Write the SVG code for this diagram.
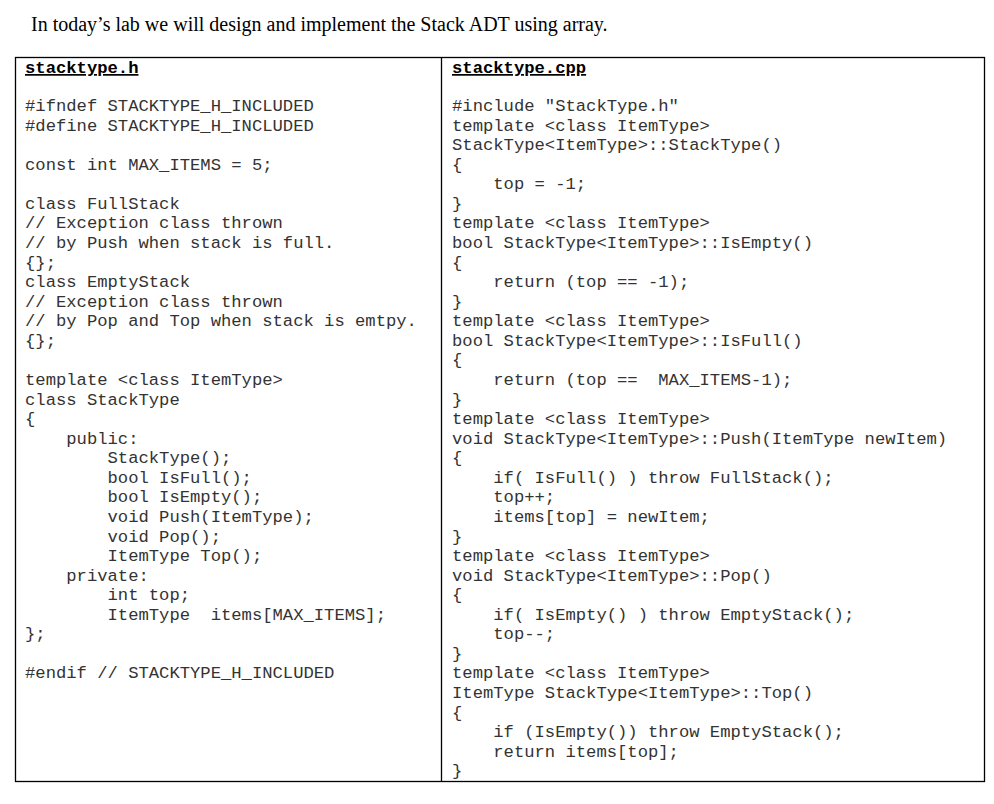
<svg xmlns="http://www.w3.org/2000/svg" width="994" height="804" viewBox="0 0 994 804">
<style>
.c{font-family:"Liberation Mono",monospace;font-size:17.2px;fill:#333;white-space:pre}
.h{font-family:"Liberation Mono",monospace;font-size:17.2px;font-weight:bold;text-decoration:underline;fill:#000}
.t{font-family:"Liberation Serif",serif;font-size:20px;fill:#000}
</style>
<rect width="994" height="804" fill="#fff"/>
<text class="t" x="31" y="31">In today’s lab we will design and implement the Stack ADT using array.</text>
<g id="table" fill="none" stroke="#000" stroke-width="1.3">
<rect x="15.5" y="57.5" width="969" height="724"/>
<line x1="441.5" y1="57.5" x2="441.5" y2="781.5"/>
</g>
<g id="left" xml:space="preserve">
<text class="h" x="25" y="73">stacktype.h</text>
<text class="c" x="25" y="111">#ifndef STACKTYPE_H_INCLUDED</text>
<text class="c" x="25" y="130.6">#define STACKTYPE_H_INCLUDED</text>
<text class="c" x="25" y="169.7">const int MAX_ITEMS = 5;</text>
<text class="c" x="25" y="208.8">class FullStack</text>
<text class="c" x="25" y="228.4">// Exception class thrown</text>
<text class="c" x="25" y="248">// by Push when stack is full.</text>
<text class="c" x="25" y="267.5">{};</text>
<text class="c" x="25" y="287.1">class EmptyStack</text>
<text class="c" x="25" y="306.7">// Exception class thrown</text>
<text class="c" x="25" y="326.2">// by Pop and Top when stack is emtpy.</text>
<text class="c" x="25" y="345.8">{};</text>
<text class="c" x="25" y="384.9">template &lt;class ItemType&gt;</text>
<text class="c" x="25" y="404.5">class StackType</text>
<text class="c" x="25" y="424">{</text>
<text class="c" x="25" y="443.6">    public:</text>
<text class="c" x="25" y="463.2">        StackType();</text>
<text class="c" x="25" y="482.8">        bool IsFull();</text>
<text class="c" x="25" y="502.3">        bool IsEmpty();</text>
<text class="c" x="25" y="521.9">        void Push(ItemType);</text>
<text class="c" x="25" y="541.5">        void Pop();</text>
<text class="c" x="25" y="561">        ItemType Top();</text>
<text class="c" x="25" y="580.6">    private:</text>
<text class="c" x="25" y="600.2">        int top;</text>
<text class="c" x="25" y="619.7">        ItemType  items[MAX_ITEMS];</text>
<text class="c" x="25" y="639.3">};</text>
<text class="c" x="25" y="678.4">#endif // STACKTYPE_H_INCLUDED</text>
</g>
<g id="right" xml:space="preserve">
<text class="h" x="452" y="73">stacktype.cpp</text>
<text class="c" x="452" y="111">#include "StackType.h"</text>
<text class="c" x="452" y="130.6">template &lt;class ItemType&gt;</text>
<text class="c" x="452" y="150.1">StackType&lt;ItemType&gt;::StackType()</text>
<text class="c" x="452" y="169.7">{</text>
<text class="c" x="452" y="189.3">    top = -1;</text>
<text class="c" x="452" y="208.8">}</text>
<text class="c" x="452" y="228.4">template &lt;class ItemType&gt;</text>
<text class="c" x="452" y="248">bool StackType&lt;ItemType&gt;::IsEmpty()</text>
<text class="c" x="452" y="267.5">{</text>
<text class="c" x="452" y="287.1">    return (top == -1);</text>
<text class="c" x="452" y="306.7">}</text>
<text class="c" x="452" y="326.2">template &lt;class ItemType&gt;</text>
<text class="c" x="452" y="345.8">bool StackType&lt;ItemType&gt;::IsFull()</text>
<text class="c" x="452" y="365.4">{</text>
<text class="c" x="452" y="384.9">    return (top ==  MAX_ITEMS-1);</text>
<text class="c" x="452" y="404.5">}</text>
<text class="c" x="452" y="424">template &lt;class ItemType&gt;</text>
<text class="c" x="452" y="443.6">void StackType&lt;ItemType&gt;::Push(ItemType newItem)</text>
<text class="c" x="452" y="463.2">{</text>
<text class="c" x="452" y="482.8">    if( IsFull() ) throw FullStack();</text>
<text class="c" x="452" y="502.3">    top++;</text>
<text class="c" x="452" y="521.9">    items[top] = newItem;</text>
<text class="c" x="452" y="541.5">}</text>
<text class="c" x="452" y="561">template &lt;class ItemType&gt;</text>
<text class="c" x="452" y="580.6">void StackType&lt;ItemType&gt;::Pop()</text>
<text class="c" x="452" y="600.2">{</text>
<text class="c" x="452" y="619.7">    if( IsEmpty() ) throw EmptyStack();</text>
<text class="c" x="452" y="639.3">    top--;</text>
<text class="c" x="452" y="658.9">}</text>
<text class="c" x="452" y="678.4">template &lt;class ItemType&gt;</text>
<text class="c" x="452" y="698">ItemType StackType&lt;ItemType&gt;::Top()</text>
<text class="c" x="452" y="717.6">{</text>
<text class="c" x="452" y="737.1">    if (IsEmpty()) throw EmptyStack();</text>
<text class="c" x="452" y="756.7">    return items[top];</text>
<text class="c" x="452" y="776.3">}</text>
</g>
</svg>
